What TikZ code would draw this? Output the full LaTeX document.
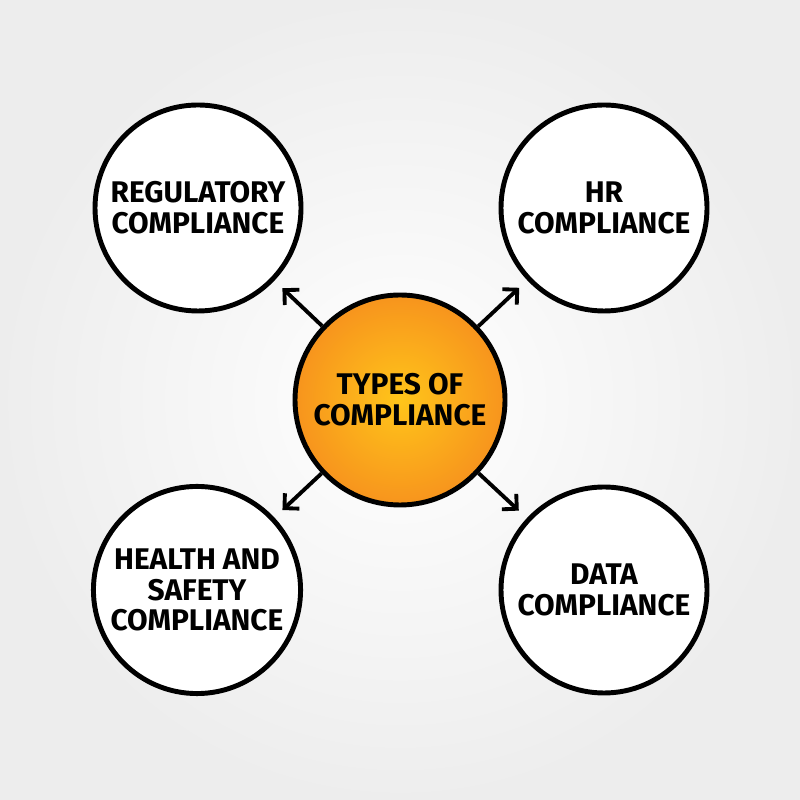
\documentclass[tikz,border=0pt]{standalone}
\usepackage{fontspec}
\setmainfont{Fira Sans}
\usetikzlibrary{arrows.meta}
\definecolor{coreinner}{HTML}{FFC51A}
\definecolor{coreouter}{HTML}{F7941D}

\begin{document}
\begin{tikzpicture}[
    topic/.style={circle, draw=black, fill=white, line width=2.8pt, minimum size=4.12cm, align=center,
        font=\fontsize{17}{17.5}\selectfont\bfseries},
    core/.style={topic, minimum size=4.2cm, inner color=coreinner, outer color=coreouter},
    branch/.style={line width=2.2pt, -{Straight Barb[length=6pt,width=12pt]}, shorten >=0.22cm}
]
    \useasboundingbox (0,0) rectangle (16,16);
    \shade[inner color=white, outer color=black!7] (0,0) rectangle (16,16);

%____________________________________________________________________________________________________
    \node[core] (types) at (8,8) {TYPES OF\\COMPLIANCE};

%____________________________________________________________________________________________________
    \node[topic] (regulatory) at (3.96,11.84) {REGULATORY\\COMPLIANCE};
    \node[topic] (hr) at (12.08,11.84) {HR\\COMPLIANCE};
    \node[topic] (health) at (3.94,4.2) {HEALTH AND\\SAFETY\\COMPLIANCE};
    \node[topic] (data) at (12.08,4.2) {DATA\\COMPLIANCE};

%____________________________________________________________________________________________________
    \draw[branch] (types) -- (regulatory);
    \draw[branch] (types) -- (hr);
    \draw[branch] (types) -- (health);
    \draw[branch] (types) -- (data);
\end{tikzpicture}
\end{document}
